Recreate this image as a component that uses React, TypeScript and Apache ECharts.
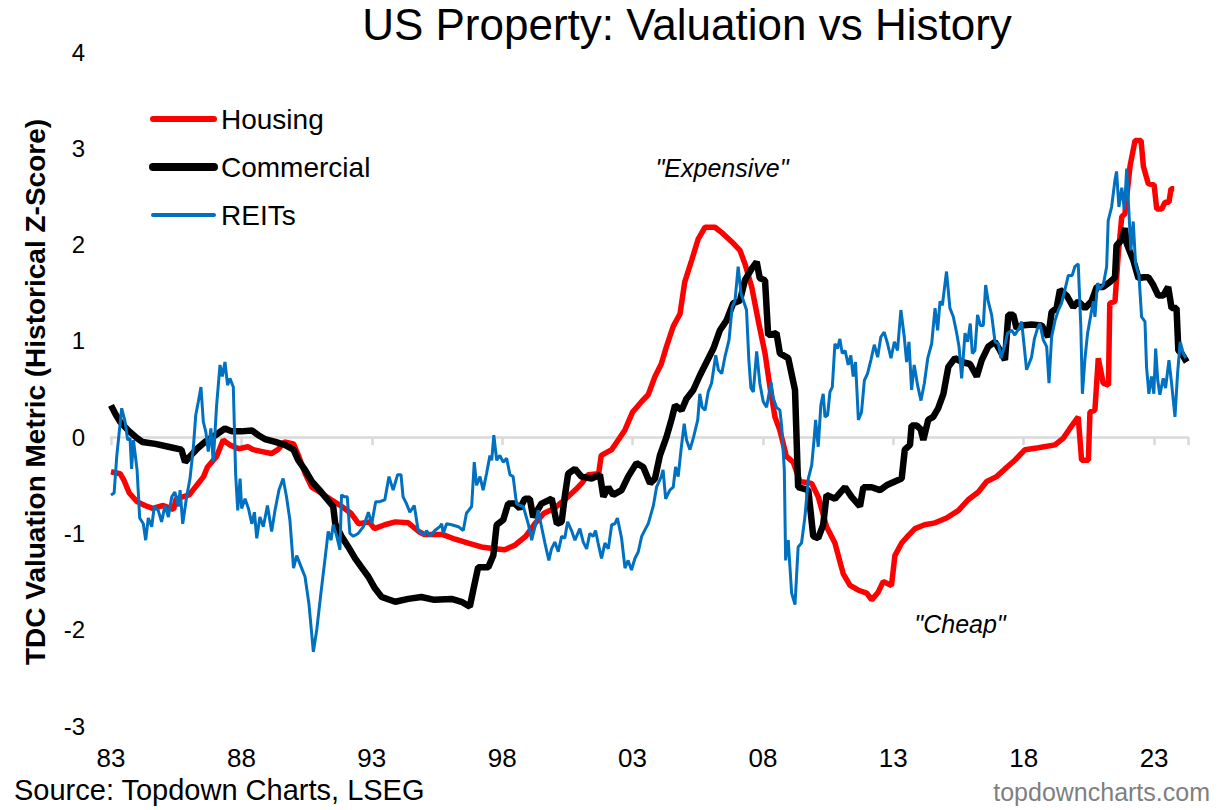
import React, { useEffect, useRef } from "react";
import * as echarts from "echarts";

const START_YEAR = 1983;
const END_YEAR = 2024.3;
const Y_MIN = -3;
const Y_MAX = 4;

const housing: [number, number][] = [
  [1983.0,-0.36],[1983.35,-0.38],[1983.5,-0.45],[1983.7,-0.58],[1984.0,-0.67],[1984.3,-0.71],[1984.6,-0.74],[1985.0,-0.71],[1985.4,-0.75],[1985.5,-0.64],
  [1986.0,-0.60],[1986.2,-0.53],[1986.55,-0.41],[1986.7,-0.31],[1987.05,-0.20],[1987.3,-0.03],[1987.55,-0.08],[1987.9,-0.12],[1988.25,-0.10],[1988.45,-0.13],
  [1988.8,-0.15],[1989.15,-0.17],[1989.4,-0.13],[1989.65,-0.05],[1990.0,-0.07],[1990.2,-0.20],[1990.45,-0.38],[1990.7,-0.52],[1991.0,-0.57],[1991.45,-0.65],
  [1991.85,-0.72],[1992.2,-0.79],[1992.5,-0.90],[1992.9,-0.88],[1993.1,-0.95],[1993.5,-0.91],[1993.9,-0.88],[1994.4,-0.89],[1994.8,-0.98],[1995.0,-1.01],
  [1995.7,-1.01],[1996.2,-1.06],[1996.7,-1.10],[1997.2,-1.14],[1997.7,-1.16],[1998.1,-1.17],[1998.5,-1.12],[1998.9,-1.03],[1999.25,-0.90],[1999.6,-0.79],
  [2000.0,-0.74],[2000.4,-0.65],[2000.8,-0.55],[2001.05,-0.48],[2001.3,-0.39],[2001.7,-0.38],[2001.8,-0.19],[2002.2,-0.13],[2002.45,-0.03],[2002.7,0.07],
  [2003.0,0.26],[2003.35,0.37],[2003.6,0.44],[2003.86,0.63],[2004.1,0.76],[2004.3,0.94],[2004.56,1.15],[2004.82,1.28],[2005.0,1.61],[2005.27,1.84],
  [2005.52,2.06],[2005.78,2.18],[2006.16,2.18],[2006.48,2.11],[2006.8,2.03],[2007.12,1.94],[2007.31,1.80],[2007.57,1.56],[2007.82,1.21],[2008.08,0.87],
  [2008.27,0.52],[2008.46,0.21],[2008.65,0.07],[2008.9,-0.20],[2009.16,-0.26],[2009.42,-0.46],[2009.87,-0.48],[2010.12,-0.62],[2010.44,-0.93],[2010.76,-1.10],
  [2011.08,-1.42],[2011.34,-1.54],[2011.66,-1.59],[2011.98,-1.62],[2012.17,-1.69],[2012.42,-1.61],[2012.61,-1.50],[2012.93,-1.54],[2013.06,-1.23],[2013.32,-1.10],
  [2013.58,-1.02],[2013.83,-0.95],[2014.2,-0.91],[2014.6,-0.89],[2015.04,-0.84],[2015.5,-0.76],[2015.87,-0.65],[2016.26,-0.57],[2016.58,-0.46],[2016.96,-0.41],
  [2017.28,-0.33],[2017.66,-0.24],[2018.05,-0.13],[2018.56,-0.11],[2019.2,-0.08],[2019.52,-0.01],[2019.77,0.09],[2020.09,0.21],[2020.22,-0.24],[2020.48,-0.24],
  [2020.54,0.26],[2020.73,0.28],[2020.86,0.82],[2021.05,0.56],[2021.25,0.54],[2021.3,1.39],[2021.5,1.41],[2021.63,1.91],[2021.76,2.29],[2021.88,2.32],
  [2022.08,2.82],[2022.27,3.08],[2022.5,3.08],[2022.59,2.81],[2022.78,2.63],[2023.0,2.62],[2023.1,2.37],[2023.29,2.37],[2023.42,2.44],[2023.57,2.44],
  [2023.65,2.58],[2023.77,2.58],
];

const commercial: [number, number][] = [
  [1983.0,0.33],[1983.15,0.25],[1983.35,0.16],[1983.66,0.07],[1984.0,-0.01],[1984.2,-0.05],[1984.7,-0.07],[1985.2,-0.10],[1985.7,-0.13],[1985.84,-0.26],
  [1986.03,-0.20],[1986.3,-0.12],[1986.6,-0.05],[1987.0,0.02],[1987.37,0.09],[1987.63,0.06],[1988.0,0.06],[1988.4,0.07],[1988.65,0.02],[1988.9,-0.02],
  [1989.3,-0.05],[1989.67,-0.08],[1990.0,-0.13],[1990.18,-0.24],[1990.44,-0.34],[1990.7,-0.46],[1991.0,-0.55],[1991.27,-0.64],[1991.52,-0.72],[1991.6,-0.90],
  [1991.84,-1.03],[1992.1,-1.14],[1992.36,-1.26],[1992.6,-1.35],[1992.87,-1.45],[1993.12,-1.57],[1993.38,-1.66],[1993.9,-1.71],[1994.4,-1.68],[1994.9,-1.66],
  [1995.4,-1.69],[1996.06,-1.68],[1996.44,-1.71],[1996.76,-1.76],[1996.89,-1.59],[1997.08,-1.35],[1997.47,-1.35],[1997.66,-1.23],[1997.79,-0.91],[1998.04,-0.86],
  [1998.23,-0.69],[1998.49,-0.69],[1998.68,-0.74],[1998.87,-0.64],[1999.06,-0.64],[1999.19,-0.83],[1999.51,-0.69],[1999.9,-0.64],[2000.1,-0.90],[2000.28,-0.88],
  [2000.4,-0.62],[2000.53,-0.38],[2000.79,-0.33],[2001.04,-0.41],[2001.43,-0.43],[2001.75,-0.39],[2001.88,-0.62],[2002.07,-0.52],[2002.26,-0.60],[2002.58,-0.55],
  [2002.83,-0.41],[2003.15,-0.27],[2003.41,-0.31],[2003.67,-0.48],[2003.86,-0.43],[2004.05,-0.19],[2004.3,0.00],[2004.5,0.19],[2004.63,0.33],[2004.88,0.28],
  [2005.07,0.40],[2005.33,0.49],[2005.58,0.64],[2005.84,0.78],[2006.1,0.92],[2006.35,1.11],[2006.6,1.21],[2006.86,1.39],[2007.12,1.42],[2007.31,1.63],
  [2007.57,1.75],[2007.76,1.82],[2007.88,1.65],[2008.08,1.63],[2008.2,1.06],[2008.52,1.08],[2008.65,0.87],[2008.97,0.82],[2009.23,0.49],[2009.35,-0.52],
  [2009.74,-0.55],[2009.93,-1.03],[2010.12,-1.05],[2010.31,-0.91],[2010.44,-0.60],[2010.76,-0.64],[2011.15,-0.52],[2011.4,-0.62],[2011.72,-0.72],[2011.85,-0.52],
  [2012.17,-0.52],[2012.49,-0.55],[2012.74,-0.50],[2013.06,-0.46],[2013.32,-0.43],[2013.44,-0.13],[2013.64,-0.08],[2013.7,0.12],[2013.9,0.12],[2014.05,0.08],
  [2014.15,-0.03],[2014.34,0.18],[2014.53,0.21],[2014.72,0.30],[2014.92,0.45],[2015.11,0.73],[2015.36,0.82],[2015.62,0.78],[2015.94,0.76],[2016.2,0.63],
  [2016.39,0.80],[2016.64,0.94],[2016.9,0.99],[2017.09,0.90],[2017.28,0.80],[2017.41,1.27],[2017.6,1.27],[2017.73,1.13],[2017.92,1.16],[2018.3,1.17],
  [2018.69,1.16],[2018.94,1.04],[2019.07,1.30],[2019.26,1.34],[2019.39,1.53],[2019.65,1.47],[2019.9,1.35],[2020.09,1.41],[2020.35,1.34],[2020.6,1.41],
  [2020.8,1.56],[2021.05,1.56],[2021.3,1.61],[2021.5,1.66],[2021.56,1.99],[2021.76,2.05],[2021.88,2.17],[2021.95,2.01],[2022.2,1.84],[2022.4,1.65],
  [2022.59,1.66],[2022.78,1.66],[2022.97,1.58],[2023.16,1.47],[2023.35,1.47],[2023.54,1.56],[2023.67,1.34],[2023.86,1.34],[2023.93,0.90],[2024.05,0.87],
  [2024.25,0.78],
];

const reits: [number, number][] = [
  [1983.0,-0.60],[1983.12,-0.58],[1983.22,-0.20],[1983.41,0.30],[1983.54,0.16],[1983.64,-0.03],[1983.73,-0.01],[1983.79,-0.33],[1983.86,-0.03],[1984.0,-0.34],
  [1984.1,-0.84],[1984.24,-0.90],[1984.33,-1.07],[1984.43,-0.84],[1984.56,-0.93],[1984.66,-0.72],[1984.81,-0.76],[1984.94,-0.88],[1985.07,-0.71],[1985.2,-0.83],
  [1985.33,-0.62],[1985.45,-0.57],[1985.58,-0.72],[1985.65,-0.55],[1985.75,-0.90],[1985.9,-0.62],[1986.03,-0.43],[1986.16,-0.10],[1986.25,0.23],[1986.35,0.37],
  [1986.45,0.52],[1986.54,0.16],[1986.64,0.05],[1986.73,-0.15],[1986.83,0.09],[1986.92,-0.26],[1987.05,0.33],[1987.18,0.75],[1987.27,0.63],[1987.37,0.78],
  [1987.47,0.54],[1987.56,0.61],[1987.69,0.52],[1987.78,-0.39],[1987.86,-0.76],[1987.95,-0.43],[1988.01,-0.74],[1988.14,-0.64],[1988.27,-0.74],[1988.4,-0.90],
  [1988.5,-0.78],[1988.59,-1.05],[1988.71,-0.83],[1988.84,-0.93],[1989.0,-0.71],[1989.16,-0.98],[1989.29,-0.76],[1989.44,-0.55],[1989.6,-0.43],[1989.73,-0.62],
  [1989.86,-0.86],[1990.0,-1.36],[1990.12,-1.23],[1990.31,-1.36],[1990.44,-1.45],[1990.59,-1.73],[1990.76,-2.23],[1990.89,-2.00],[1991.05,-1.62],[1991.2,-1.28],
  [1991.33,-0.98],[1991.44,-1.07],[1991.52,-0.91],[1991.65,-1.02],[1991.78,-1.17],[1991.84,-0.60],[1991.95,-0.62],[1992.06,-0.62],[1992.16,-1.00],[1992.29,-1.03],
  [1992.48,-1.00],[1992.68,-0.93],[1992.87,-0.78],[1993.0,-0.90],[1993.15,-0.67],[1993.31,-0.67],[1993.5,-0.65],[1993.66,-0.41],[1993.82,-0.55],[1993.99,-0.39],
  [1994.12,-0.39],[1994.2,-0.62],[1994.33,-0.69],[1994.46,-0.78],[1994.63,-0.71],[1994.78,-0.97],[1995.01,-1.02],[1995.1,-0.97],[1995.23,-1.03],[1995.42,-0.97],
  [1995.61,-0.93],[1995.68,-0.90],[1995.74,-1.00],[1995.87,-0.90],[1996.06,-0.91],[1996.32,-0.93],[1996.51,-0.97],[1996.63,-0.79],[1996.83,-0.72],[1996.93,-0.26],
  [1997.02,-0.50],[1997.15,-0.41],[1997.27,-0.55],[1997.4,-0.38],[1997.53,-0.19],[1997.6,-0.24],[1997.68,0.02],[1997.79,-0.24],[1997.91,-0.19],[1998.04,-0.26],
  [1998.17,-0.22],[1998.3,-0.39],[1998.42,-0.41],[1998.55,-0.69],[1998.68,-0.71],[1998.81,-0.72],[1999.0,-0.90],[1999.13,-1.07],[1999.26,-0.93],[1999.38,-0.76],
  [1999.51,-0.93],[1999.64,-1.10],[1999.79,-1.28],[1999.89,-1.16],[2000.02,-1.09],[2000.15,-1.19],[2000.28,-1.03],[2000.4,-1.05],[2000.51,-0.88],[2000.66,-0.97],
  [2000.79,-1.07],[2000.98,-0.95],[2001.11,-1.09],[2001.24,-1.16],[2001.36,-1.00],[2001.49,-1.03],[2001.58,-0.97],[2001.68,-1.10],[2001.81,-1.26],[2001.94,-1.10],
  [2002.07,-1.16],[2002.2,-0.91],[2002.32,-0.90],[2002.42,-0.84],[2002.58,-1.05],[2002.71,-1.36],[2002.83,-1.28],[2002.96,-1.38],[2003.09,-1.26],[2003.22,-1.19],
  [2003.35,-1.03],[2003.5,-0.95],[2003.6,-0.90],[2003.8,-0.71],[2003.92,-0.52],[2004.1,-0.41],[2004.17,-0.34],[2004.27,-0.64],[2004.43,-0.55],[2004.56,-0.52],
  [2004.65,-0.31],[2004.75,-0.41],[2004.86,-0.13],[2004.98,0.14],[2005.07,-0.03],[2005.2,-0.13],[2005.33,-0.01],[2005.5,0.18],[2005.58,0.45],[2005.67,0.31],
  [2005.78,0.28],[2005.9,0.47],[2006.03,0.56],[2006.19,0.85],[2006.29,0.70],[2006.42,0.66],[2006.54,0.83],[2006.7,1.01],[2006.82,1.35],[2006.93,1.42],
  [2007.05,1.77],[2007.16,1.49],[2007.25,1.42],[2007.37,1.32],[2007.46,0.80],[2007.54,0.51],[2007.63,0.47],[2007.76,0.89],[2007.88,0.56],[2008.01,0.37],
  [2008.14,0.31],[2008.31,0.57],[2008.4,0.40],[2008.52,0.31],[2008.65,0.28],[2008.72,0.11],[2008.82,-0.34],[2008.87,-1.28],[2008.97,-1.07],[2009.1,-1.62],
  [2009.23,-1.74],[2009.35,-1.14],[2009.48,-1.10],[2009.61,-0.83],[2009.74,-0.43],[2009.87,-0.29],[2009.97,0.00],[2010.02,0.18],[2010.12,-0.10],[2010.22,0.33],
  [2010.31,0.45],[2010.38,0.21],[2010.48,0.23],[2010.57,0.47],[2010.66,0.52],[2010.76,0.97],[2010.86,0.92],[2010.95,1.02],[2011.04,0.87],[2011.15,0.90],
  [2011.27,0.75],[2011.37,0.85],[2011.46,0.63],[2011.55,0.78],[2011.66,0.18],[2011.78,0.26],[2011.89,0.59],[2012.01,0.66],[2012.14,0.80],[2012.27,0.96],
  [2012.4,0.83],[2012.52,1.04],[2012.65,1.09],[2012.78,0.97],[2012.91,0.82],[2013.04,0.99],[2013.16,0.90],[2013.29,1.32],[2013.42,1.04],[2013.51,0.78],
  [2013.6,0.99],[2013.7,0.49],[2013.8,0.75],[2013.93,0.54],[2014.06,0.38],[2014.19,0.56],[2014.32,0.82],[2014.47,0.97],[2014.6,1.34],[2014.7,1.11],
  [2014.79,1.41],[2014.88,1.37],[2015.04,1.72],[2015.17,1.34],[2015.3,1.25],[2015.43,1.08],[2015.52,0.94],[2015.62,0.61],[2015.75,1.08],[2015.85,0.99],
  [2015.95,1.18],[2016.03,0.87],[2016.13,0.90],[2016.23,1.27],[2016.34,1.16],[2016.45,1.16],[2016.54,1.58],[2016.64,1.41],[2016.77,1.27],[2016.9,0.99],
  [2017.03,0.97],[2017.13,0.82],[2017.26,0.94],[2017.38,1.08],[2017.54,1.11],[2017.66,1.06],[2017.82,1.13],[2017.92,1.20],[2018.02,0.94],[2018.11,0.70],
  [2018.2,0.76],[2018.3,0.83],[2018.41,1.02],[2018.53,1.13],[2018.62,1.18],[2018.75,1.01],[2018.88,0.94],[2018.97,0.56],[2019.07,1.04],[2019.2,1.21],
  [2019.33,1.32],[2019.45,1.39],[2019.58,1.53],[2019.71,1.68],[2019.86,1.68],[2019.96,1.77],[2020.09,1.80],[2020.19,1.15],[2020.25,0.45],[2020.35,0.82],
  [2020.45,1.08],[2020.58,1.28],[2020.67,1.41],[2020.73,1.25],[2020.83,1.60],[2020.92,1.54],[2021.05,1.58],[2021.18,1.77],[2021.24,2.25],[2021.37,2.39],
  [2021.5,2.67],[2021.56,2.76],[2021.65,2.39],[2021.76,2.59],[2021.86,2.36],[2021.95,2.79],[2022.01,2.46],[2022.11,1.94],[2022.2,2.24],[2022.29,1.80],
  [2022.42,1.68],[2022.52,1.25],[2022.65,1.20],[2022.71,0.73],[2022.8,0.45],[2022.9,0.63],[2022.99,0.45],[2023.06,0.92],[2023.14,0.59],[2023.22,0.44],
  [2023.35,0.61],[2023.44,0.51],[2023.57,0.80],[2023.67,0.56],[2023.8,0.21],[2023.9,0.66],[2024.0,0.99],[2024.12,0.87],[2024.21,0.82],
];

const FONT = '"Liberation Sans", Arial, Helvetica, sans-serif';

const toAxis = (arr: [number, number][]) => arr.map(([yr, v]) => [yr - START_YEAR, v]);
const yearLabel = (v: number) => String(Math.round(START_YEAR + v) % 100).padStart(2, "0");

export default function App() {
  const ref = useRef<HTMLDivElement>(null);
  useEffect(() => {
    if (!ref.current) return;
    const chart = echarts.init(ref.current, undefined, { renderer: "svg" });
    const xCommon = {
      type: "value" as const,
      min: 0,
      max: END_YEAR - START_YEAR,
      interval: 5,
      splitLine: { show: false },
    };
    chart.setOption({
      animation: false,
      backgroundColor: "#ffffff",
      textStyle: { fontFamily: FONT },
      grid: { left: 111, top: 52, width: 1077, height: 674, containLabel: false },
      xAxis: [
        {
          ...xCommon,
          position: "bottom",
          axisLine: { show: true, onZero: true, lineStyle: { color: "#d9d9d9", width: 2.5 } },
          axisTick: { show: true, length: 8, lineStyle: { color: "#d9d9d9", width: 2.5 } },
          axisLabel: { show: false },
        },
        {
          ...xCommon,
          position: "bottom",
          axisLine: { show: false, onZero: false },
          axisTick: { show: false },
          axisLabel: {
            show: true,
            showMaxLabel: false,
            margin: 19,
            fontSize: 26,
            color: "#000",
            fontFamily: FONT,
            formatter: (v: number) => yearLabel(v),
          },
        },
      ],
      yAxis: {
        type: "value",
        min: Y_MIN,
        max: Y_MAX,
        interval: 1,
        axisLine: { show: false },
        axisTick: { show: false },
        splitLine: { show: false },
        axisLabel: { margin: 26, fontSize: 24, color: "#000", fontFamily: FONT },
      },
      series: [
        {
          name: "Housing",
          type: "line",
          xAxisIndex: 0,
          data: toAxis(housing),
          showSymbol: false,
          symbol: "none",
          lineStyle: { color: "#ff0000", width: 5.5 },
          z: 2,
        },
        {
          name: "Commercial",
          type: "line",
          xAxisIndex: 0,
          data: toAxis(commercial),
          showSymbol: false,
          symbol: "none",
          lineStyle: { color: "#000000", width: 6.5 },
          z: 3,
        },
        {
          name: "REITs",
          type: "line",
          xAxisIndex: 0,
          data: toAxis(reits),
          showSymbol: false,
          symbol: "none",
          lineStyle: { color: "#0070c0", width: 3 },
          z: 4,
        },
      ],
      graphic: [
        {
          type: "text",
          x: 687,
          y: 24,
          style: { text: "US Property: Valuation vs History", fontSize: 44, fill: "#000", align: "center", verticalAlign: "middle", fontFamily: FONT },
        },
        {
          type: "text",
          x: 35,
          y: 392,
          rotation: Math.PI / 2,
          style: { text: "TDC Valuation Metric (Historical Z-Score)", fontSize: 28, fontWeight: "bold", fill: "#000", align: "center", verticalAlign: "middle", fontFamily: FONT },
        },
        { type: "line", shape: { x1: 153, y1: 119, x2: 214, y2: 119 }, style: { stroke: "#ff0000", lineWidth: 6, lineCap: "round" } },
        { type: "text", x: 221, y: 119, style: { text: "Housing", fontSize: 28, fill: "#000", align: "left", verticalAlign: "middle", fontFamily: FONT } },
        { type: "line", shape: { x1: 153, y1: 167, x2: 214, y2: 167 }, style: { stroke: "#000000", lineWidth: 8, lineCap: "round" } },
        { type: "text", x: 221, y: 167, style: { text: "Commercial", fontSize: 28, fill: "#000", align: "left", verticalAlign: "middle", fontFamily: FONT } },
        { type: "line", shape: { x1: 153, y1: 215, x2: 214, y2: 215 }, style: { stroke: "#0070c0", lineWidth: 4, lineCap: "round" } },
        { type: "text", x: 221, y: 215, style: { text: "REITs", fontSize: 28, fill: "#000", align: "left", verticalAlign: "middle", fontFamily: FONT } },
        {
          type: "text",
          x: 722,
          y: 168,
          style: { text: '"Expensive"', fontSize: 25, fontStyle: "italic", fill: "#000", align: "center", verticalAlign: "middle", fontFamily: FONT },
        },
        {
          type: "text",
          x: 960,
          y: 624,
          style: { text: '"Cheap"', fontSize: 25, fontStyle: "italic", fill: "#000", align: "center", verticalAlign: "middle", fontFamily: FONT },
        },
        {
          type: "text",
          x: 14,
          y: 790,
          style: { text: "Source: Topdown Charts, LSEG", fontSize: 29, fill: "#000", align: "left", verticalAlign: "middle", fontFamily: FONT },
        },
        {
          type: "text",
          x: 1210,
          y: 792,
          style: { text: "topdowncharts.com", fontSize: 25, fill: "#7f7f7f", align: "right", verticalAlign: "middle", fontFamily: FONT },
        },
      ],
    });
    return () => chart.dispose();
  }, []);
  return <div ref={ref} style={{ position: "absolute", left: 0, top: 0, width: 1222, height: 810 }} />;
}
